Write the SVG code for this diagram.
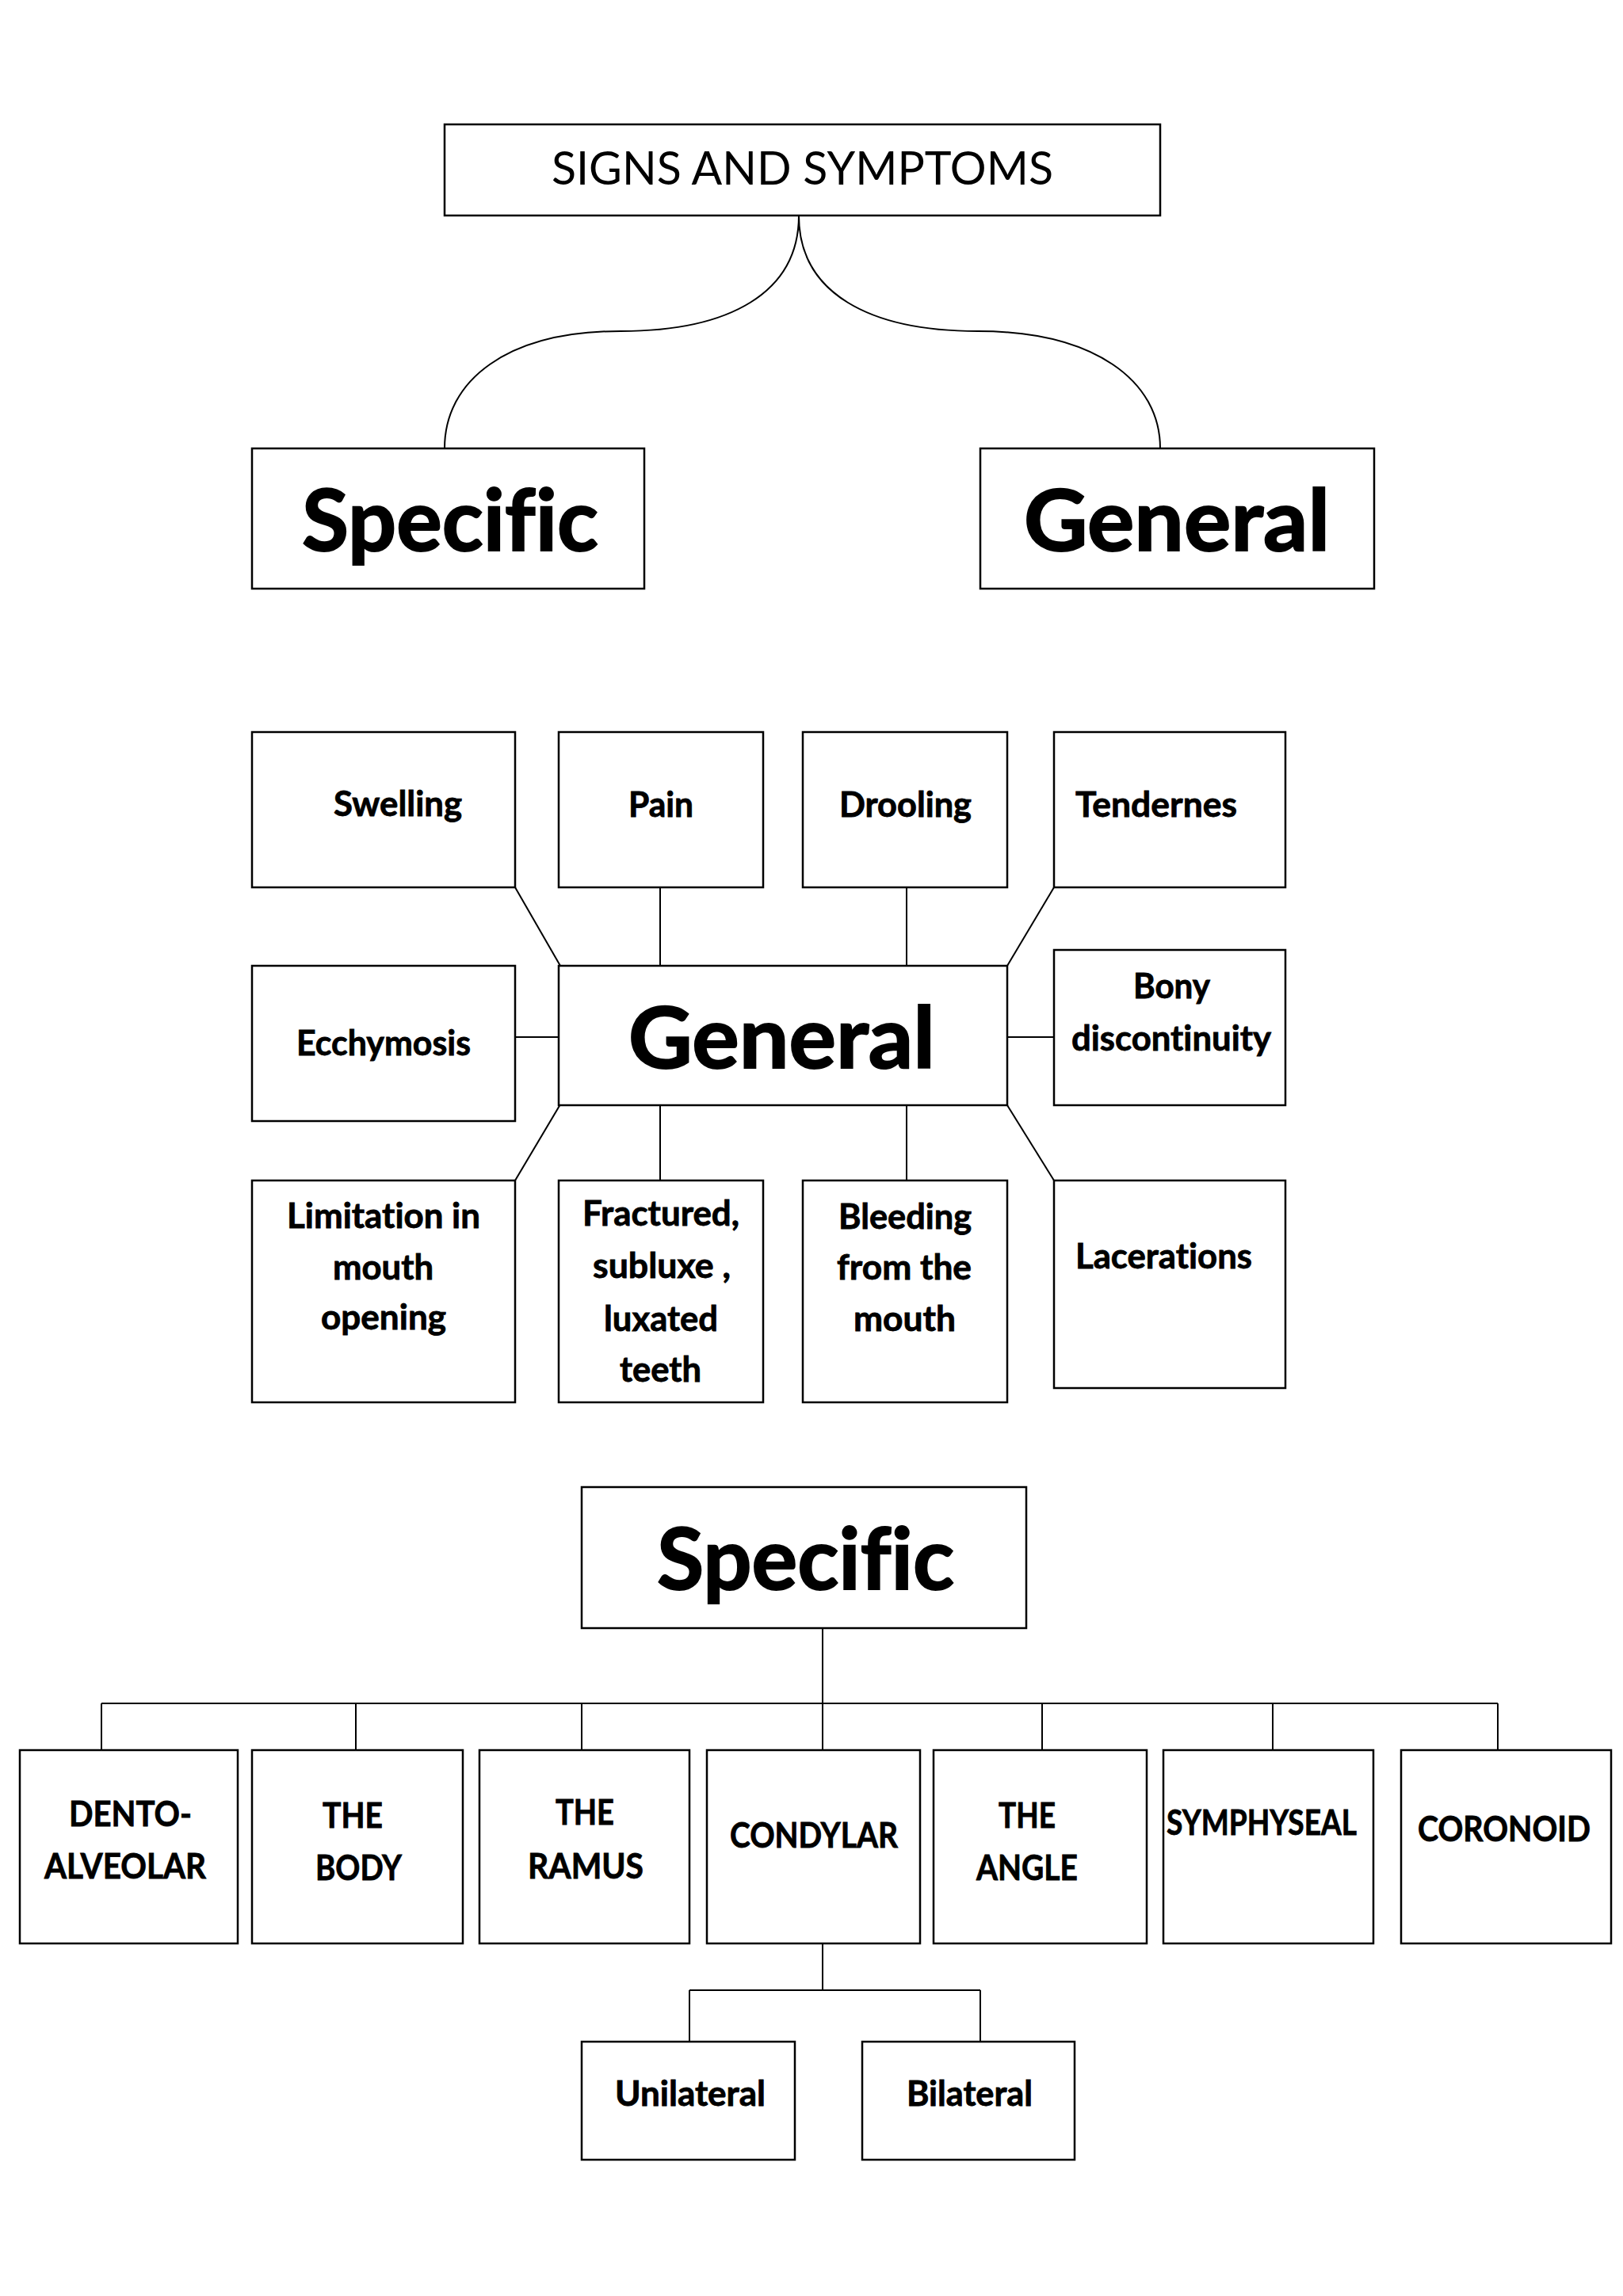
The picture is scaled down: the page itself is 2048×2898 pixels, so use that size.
<svg xmlns="http://www.w3.org/2000/svg" width="2048" height="2898" viewBox="0 0 2048 2898">
<style>
.box{fill:#fff;stroke:#000;stroke-width:2.5}
.ln{fill:none;stroke:#000;stroke-width:2}
text{font-variant-ligatures:none;font-feature-settings:"liga" 0,"clig" 0;fill:#000}
.t{font-family:Lato,"Liberation Sans",sans-serif;font-weight:700;font-size:43px;stroke:#000;stroke-width:0.8}
.big{font-family:Lato,"Liberation Sans",sans-serif;font-weight:700;font-size:108px;stroke:#000;stroke-width:2}
.reg{font-family:Lato,"Liberation Sans",sans-serif;font-weight:400;font-size:58px}
</style>
<rect width="2048" height="2898" fill="#fff"/>
<g id="connectors">
<path class="ln" d="M1008 272 C1008 370 920 418 783 418 C640 418 561 480 561 566"/>
<path class="ln" d="M1008 272 C1008 370 1097 418 1234 418 C1380 418 1464 480 1464 566"/>
<line class="ln" x1="650" y1="1120" x2="707" y2="1219"/>
<line class="ln" x1="833" y1="1120" x2="833" y2="1219"/>
<line class="ln" x1="1144" y1="1120" x2="1144" y2="1219"/>
<line class="ln" x1="1330" y1="1120" x2="1271" y2="1219"/>
<line class="ln" x1="650" y1="1309" x2="707" y2="1309"/>
<line class="ln" x1="1271" y1="1309" x2="1330" y2="1309"/>
<line class="ln" x1="707" y1="1394" x2="650" y2="1490"/>
<line class="ln" x1="833" y1="1394" x2="833" y2="1490"/>
<line class="ln" x1="1144" y1="1394" x2="1144" y2="1490"/>
<line class="ln" x1="1271" y1="1395" x2="1330" y2="1490"/>
<line class="ln" x1="1038" y1="2055" x2="1038" y2="2150"/>
<line class="ln" x1="128" y1="2150" x2="1890" y2="2150"/>
<line class="ln" x1="128" y1="2150" x2="128" y2="2209"/>
<line class="ln" x1="449" y1="2150" x2="449" y2="2209"/>
<line class="ln" x1="734" y1="2150" x2="734" y2="2209"/>
<line class="ln" x1="1038" y1="2150" x2="1038" y2="2209"/>
<line class="ln" x1="1315" y1="2150" x2="1315" y2="2209"/>
<line class="ln" x1="1606" y1="2150" x2="1606" y2="2209"/>
<line class="ln" x1="1890" y1="2150" x2="1890" y2="2209"/>
<line class="ln" x1="1038" y1="2453" x2="1038" y2="2512"/>
<line class="ln" x1="870" y1="2512" x2="1237" y2="2512"/>
<line class="ln" x1="870" y1="2512" x2="870" y2="2577"/>
<line class="ln" x1="1237" y1="2512" x2="1237" y2="2577"/>
</g>
<g id="signs-and-symptoms"><rect class="box" x="561" y="157" width="903" height="115"/><text class="reg" x="696" y="233" textLength="633" lengthAdjust="spacingAndGlyphs">SIGNS AND SYMPTOMS</text></g>
<g id="specific-top"><rect class="box" x="318" y="566" width="495" height="177"/><text class="big" x="381" y="695" textLength="374" lengthAdjust="spacingAndGlyphs">Specific</text></g>
<g id="general-top"><rect class="box" x="1237" y="566" width="497" height="177"/><text class="big" x="1292" y="695" textLength="386" lengthAdjust="spacingAndGlyphs">General</text></g>

<g id="swelling"><rect class="box" x="318" y="924" width="332" height="196"/><text class="t" x="421" y="1030" textLength="162" lengthAdjust="spacingAndGlyphs">Swelling</text></g>
<g id="pain"><rect class="box" x="705" y="924" width="258" height="196"/><text class="t" x="793" y="1031" textLength="82" lengthAdjust="spacingAndGlyphs">Pain</text></g>
<g id="drooling"><rect class="box" x="1013" y="924" width="258" height="196"/><text class="t" x="1059" y="1031" textLength="167" lengthAdjust="spacingAndGlyphs">Drooling</text></g>
<g id="tendernes"><rect class="box" x="1330" y="924" width="292" height="196"/><text class="t" x="1357" y="1031" textLength="204" lengthAdjust="spacingAndGlyphs">Tendernes</text></g>
<g id="ecchymosis"><rect class="box" x="318" y="1219" width="332" height="196"/><text class="t" x="374" y="1332" textLength="220" lengthAdjust="spacingAndGlyphs">Ecchymosis</text></g>
<g id="general-center"><rect class="box" x="705" y="1219" width="566" height="176"/><text class="big" x="793" y="1348" textLength="387" lengthAdjust="spacingAndGlyphs">General</text></g>
<g id="bony"><rect class="box" x="1330" y="1199" width="292" height="196"/><text class="t" x="1430" y="1260" textLength="97" lengthAdjust="spacingAndGlyphs">Bony</text><text class="t" x="1352" y="1326" textLength="252" lengthAdjust="spacingAndGlyphs">discontinuity</text></g>
<g id="limitation"><rect class="box" x="318" y="1490" width="332" height="280"/><text class="t" x="362" y="1550" textLength="244" lengthAdjust="spacingAndGlyphs">Limitation in</text><text class="t" x="420" y="1615" textLength="127" lengthAdjust="spacingAndGlyphs">mouth</text><text class="t" x="405" y="1678" textLength="158" lengthAdjust="spacingAndGlyphs">opening</text></g>
<g id="fractured"><rect class="box" x="705" y="1490" width="258" height="280"/><text class="t" x="735" y="1547" textLength="198" lengthAdjust="spacingAndGlyphs">Fractured,</text><text class="t" x="748" y="1613" textLength="174" lengthAdjust="spacingAndGlyphs">subluxe ,</text><text class="t" x="762" y="1680" textLength="144" lengthAdjust="spacingAndGlyphs">luxated</text><text class="t" x="782" y="1744" textLength="103" lengthAdjust="spacingAndGlyphs">teeth</text></g>
<g id="bleeding"><rect class="box" x="1013" y="1490" width="258" height="280"/><text class="t" x="1058" y="1551" textLength="168" lengthAdjust="spacingAndGlyphs">Bleeding</text><text class="t" x="1056" y="1615" textLength="170" lengthAdjust="spacingAndGlyphs">from the</text><text class="t" x="1077" y="1680" textLength="129" lengthAdjust="spacingAndGlyphs">mouth</text></g>
<g id="lacerations"><rect class="box" x="1330" y="1490" width="292" height="262"/><text class="t" x="1357" y="1601" textLength="223" lengthAdjust="spacingAndGlyphs">Lacerations</text></g>

<g id="specific-center"><rect class="box" x="734" y="1877" width="561" height="178"/><text class="big" x="829" y="2006" textLength="375" lengthAdjust="spacingAndGlyphs">Specific</text></g>
<g id="dento-alveolar"><rect class="box" x="25" y="2209" width="275" height="244"/><text class="t" x="87" y="2305" textLength="155" lengthAdjust="spacingAndGlyphs">DENTO-</text><text class="t" x="56" y="2371" textLength="204" lengthAdjust="spacingAndGlyphs">ALVEOLAR</text></g>
<g id="the-body"><rect class="box" x="318" y="2209" width="266" height="244"/><text class="t" x="407" y="2307" textLength="76" lengthAdjust="spacingAndGlyphs">THE</text><text class="t" x="398" y="2373" textLength="109" lengthAdjust="spacingAndGlyphs">BODY</text></g>
<g id="the-ramus"><rect class="box" x="605" y="2209" width="265" height="244"/><text class="t" x="701" y="2303" textLength="74" lengthAdjust="spacingAndGlyphs">THE</text><text class="t" x="666" y="2371" textLength="146" lengthAdjust="spacingAndGlyphs">RAMUS</text></g>
<g id="condylar"><rect class="box" x="892" y="2209" width="269" height="244"/><text class="t" x="921" y="2332" textLength="212" lengthAdjust="spacingAndGlyphs">CONDYLAR</text></g>
<g id="the-angle"><rect class="box" x="1178" y="2209" width="269" height="244"/><text class="t" x="1260" y="2307" textLength="72" lengthAdjust="spacingAndGlyphs">THE</text><text class="t" x="1232" y="2373" textLength="128" lengthAdjust="spacingAndGlyphs">ANGLE</text></g>
<g id="symphyseal"><rect class="box" x="1468" y="2209" width="265" height="244"/><text class="t" x="1472" y="2316" textLength="240" lengthAdjust="spacingAndGlyphs">SYMPHYSEAL</text></g>
<g id="coronoid"><rect class="box" x="1768" y="2209" width="265" height="244"/><text class="t" x="1789" y="2324" textLength="218" lengthAdjust="spacingAndGlyphs">CORONOID</text></g>
<g id="unilateral"><rect class="box" x="734" y="2577" width="269" height="149"/><text class="t" x="776" y="2658" textLength="190" lengthAdjust="spacingAndGlyphs">Unilateral</text></g>
<g id="bilateral"><rect class="box" x="1088" y="2577" width="268" height="149"/><text class="t" x="1144" y="2658" textLength="159" lengthAdjust="spacingAndGlyphs">Bilateral</text></g>
</svg>
